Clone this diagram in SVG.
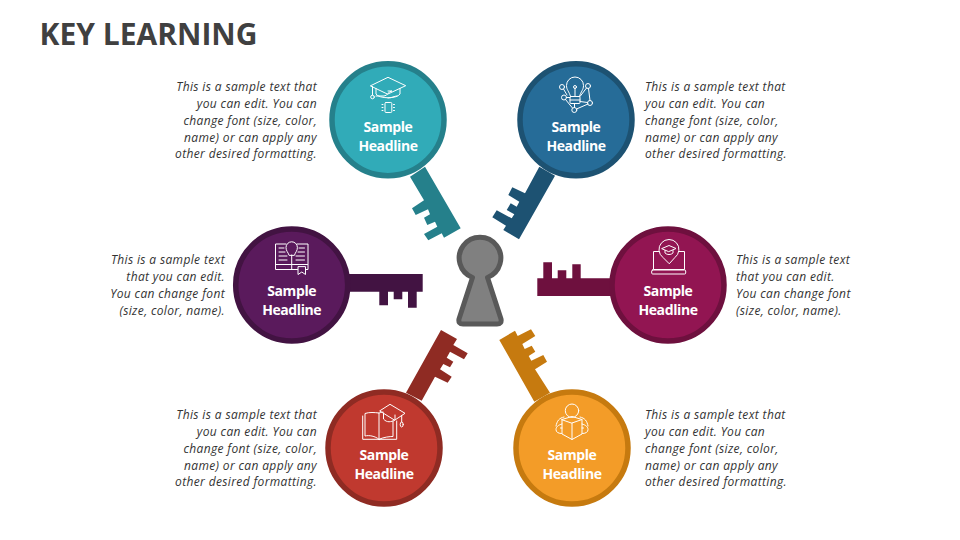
<svg xmlns="http://www.w3.org/2000/svg" width="960" height="540" viewBox="0 0 960 540">
<style>
text{font-family:"Open Sans","Noto Sans","Liberation Sans",sans-serif}
.t{font-size:30px;font-weight:700;fill:#404040}
.b{font-size:12px;font-style:italic;fill:#333;letter-spacing:.36px}
.r{text-anchor:end}
.h{font-size:14px;font-weight:700;fill:#fff;text-anchor:middle;letter-spacing:-.4px}
.c{stroke-width:5.5}
.i{fill:none;stroke:#fff;stroke-width:1;stroke-linejoin:round;stroke-linecap:round}
</style>
<rect width="960" height="540" fill="#fff"/>
<text class="t" x="39.500" y="45">KEY LEARNING</text>
<g id="connectors">
<polygon fill="#25808B" points="410,176.7 425,166.7 460.7,228.3 444,237.7 441.7,233.3 428.3,240.3 424,234 437.3,226.7 435,221.7 427.3,225 424,217.7 430,214.3 428,209.3 415.7,215 412,208.3 424,200.3"/>
<polygon fill="#1D5272" points="539.3,166.7 555,175.7 519,239.3 503.3,230 506,225.7 492.3,217.3 496.7,210.3 511.7,218.3 514.3,214.3 506.7,210 510.7,203.3 516.7,206.7 519.3,201.7 508.3,195 512.3,187.3 525,193.3"/>
<polygon fill="#421342" points="345,274 422.7,274 422.7,291.7 416.7,291.7 416.7,307.7 408,307.7 408,291.7 402.3,291.7 402.3,299.3 393.7,299.3 393.7,291.7 388,291.7 388,305.3 379.3,305.3 379.3,291.7 345,291.7"/>
<polygon fill="#6E103E" points="537.3,278.3 543.3,278.3 543.3,262.3 552,262.3 552,278.3 557.7,278.3 557.7,270.3 566.3,270.3 566.3,278.3 572.3,278.3 572.3,264.3 580.7,264.3 580.7,278.3 615,278.3 615,296 537.3,296"/>
<polygon fill="#8F2B23" points="406,392.7 441,330 457,339 453.3,345 467.7,353.3 464,359.3 450,351.7 446.7,357.7 453.3,361.7 450,367.3 443.3,364 440,369.3 451.7,376.7 447.7,382.7 435,376.7 421.7,400.7"/>
<polygon fill="#C67A0F" points="499.3,340 515,330.7 517.7,336 531,329.3 535.3,336 522.3,344 524.7,349 531.7,345.7 535.3,351.7 528.7,356 531.3,360.7 543.3,355 547,361.7 535,369.3 550,392.7 534.3,401.7"/>
</g>
<g id="keyhole">
<path d="M472.5,277.5A20.8,20.8 0 1 1 487.5,277.5L501,319Q502,324 497,324L463,324Q458,324 459,319Z" fill="#808080" stroke="#595959" stroke-width="5" stroke-linejoin="round"/>
</g>
<g id="node-teal">
<circle class="c" cx="388" cy="119.7" r="56" fill="#31ABB8" stroke="#25808B"/>
<g class="i">
<path d="M370.7,85.7L388,77.3 405.7,85.7 388,94Z"/>
<path d="M376,88.5V94C379,99 397,99 400,94V88.5"/>
<path d="M372.5,86.5V95"/><circle cx="372.5" cy="97" r="1.8"/>
<path d="M376,96H384C388,96 388,91 392,91H388M388,98C392,98 394,96 397,96"/>
<rect x="385" y="102.5" width="6.8" height="10" rx="1"/>
<path d="M382,104.5H383M382,107.5H383M382,110.5H383M393.500,104.500H394.500M393.500,107.500H394.500M393.500,110.500H394.500"/>
</g>
<text class="h" x="388" y="132">Sample</text>
<text class="h" x="388" y="151">Headline</text>
</g>
<g id="node-blue">
<circle class="c" cx="576" cy="119.7" r="56" fill="#266C98" stroke="#1D5272"/>
<g class="i">
<path d="M570.500,96.500C569,91 566.500,90 566.500,85.500A8.500,8.500 0 0 1 583.500,85.500C583.500,90 581,91 579.500,96.500"/>
<rect x="570" y="96.500" width="10" height="7" rx="1"/><path d="M570,100H580M575,96.500V88"/>
<circle cx="575" cy="87" r="1.500"/>
<circle cx="562" cy="87" r="2.500"/><circle cx="588" cy="86" r="2.500"/><circle cx="564" cy="97.500" r="2.500"/><circle cx="590" cy="103" r="2.500"/><circle cx="574.300" cy="110" r="2.500"/>
<path d="M563.500,89L567,95M566.500,97.500H570M565.500,99.500L572.500,108M576.500,109L588,104M588.500,88.500L590,100.500M586.500,88L580,96.500M574.500,107.500V103.500M580,101.500L587.500,102.500"/>
</g>
<text class="h" x="576" y="132">Sample</text>
<text class="h" x="576" y="151">Headline</text>
</g>
<g id="node-purple">
<circle class="c" cx="291.700" cy="285" r="56" fill="#5A1A5C" stroke="#421342"/>
<g class="i">
<path d="M286,244H275.500V269.500H297.500M306,269.500H308V244H297"/>
<path d="M276,264.500H291.700V269.500M291.700,264.500H307.500"/>
<path d="M289,255C288,252 286,251 286,247.500A5.700,5.700 0 0 1 297.400,247.500C297.400,251 295.500,252 294.500,255ZM291.700,255V264.500"/>
<path d="M279,248H284M279,252H285M279,256H287M279,260H287M299,248H304.500M298,252H304.500M296,256H304.500M296,260H304.500"/>
<path d="M298,267V274.500L301.800,272 305.500,274.500V267Z"/>
</g>
<text class="h" x="291.700" y="296">Sample</text>
<text class="h" x="291.700" y="315">Headline</text>
</g>
<g id="node-magenta">
<circle class="c" cx="668" cy="285" r="56" fill="#921552" stroke="#6E103E"/>
<g class="i">
<path d="M669,263.500L663,257.500A10,10 0 1 1 675,257.500Z"/>
<path d="M662,248.500L669,245.500 676,248.500 669,251.500Z"/><path d="M665,250.500V253C667,255 671,255 673,253V250.500"/>
<path d="M659,251.500H653.500V269.500H684.500V251.500H679"/>
<rect x="651.700" y="270" width="34" height="4" rx="1"/>
</g>
<text class="h" x="668" y="296">Sample</text>
<text class="h" x="668" y="315">Headline</text>
</g>
<g id="node-red">
<circle class="c" cx="384" cy="448" r="56" fill="#C0392F" stroke="#8F2B23"/>
<g class="i">
<path d="M379,439.300V413C375,412.500 369,412 365,413.500V436C369,435 375,436 379,439.300Z"/>
<path d="M379,413C381,412.500 382,412 383,412M379,439.300C384,437 390,436.500 393,436.500V421"/>
<path d="M362.700,416V439.300H396.700V421"/>
<path d="M380,410.700L390,404.300 405,413.300 395,420Z"/>
<path d="M383.500,413V419C387,423 391,422 395,420V415"/>
<path d="M401.700,415.500V422"/><ellipse cx="401.700" cy="424.500" rx="1.500" ry="2.500"/>
</g>
<text class="h" x="384" y="460">Sample</text>
<text class="h" x="384" y="479">Headline</text>
</g>
<g id="node-orange">
<circle class="c" cx="572" cy="448" r="56" fill="#F39C28" stroke="#C67A0F"/>
<g class="i">
<circle cx="572" cy="410.700" r="6.700"/>
<path d="M572,423L582,419.500 572,416.500 562,419.500ZM562,419.500V434L572,439.500 582,434V419.500M572,423V439.500"/>
<path d="M562,424C558,425 556,427 556,429.500C556,432 558,433.500 561.500,433.500M562,428H560.500M582,424C586,425 588,427 588,429.500C588,432 586,433.500 582.500,433.500M582,428H583.500"/>
<path d="M564,417C559,418 557,421 556,426M580,417C585,418 587,421 588,426"/>
</g>
<text class="h" x="572" y="460">Sample</text>
<text class="h" x="572" y="479">Headline</text>
</g>
<g id="text-left-top"><text class="b r" x="317" y="91">This is a sample text that</text><text class="b r" x="317" y="108">you can edit. You can</text><text class="b r" x="317" y="125">change font (size, color,</text><text class="b r" x="317" y="142">name) or can apply any</text><text class="b r" x="317" y="158">other desired formatting.</text></g>
<g id="text-right-top"><text class="b" x="645" y="91">This is a sample text that</text><text class="b" x="645" y="108">you can edit. You can</text><text class="b" x="645" y="125">change font (size, color,</text><text class="b" x="645" y="142">name) or can apply any</text><text class="b" x="645" y="158">other desired formatting.</text></g>
<g id="text-left-mid"><text class="b r" x="225" y="264">This is a sample text</text><text class="b r" x="225" y="281">that you can edit.</text><text class="b r" x="225" y="298">You can change font</text><text class="b r" x="225" y="315">(size, color, name).</text></g>
<g id="text-right-mid"><text class="b" x="736" y="264">This is a sample text</text><text class="b" x="736" y="281">that you can edit.</text><text class="b" x="736" y="298">You can change font</text><text class="b" x="736" y="315">(size, color, name).</text></g>
<g id="text-left-bot"><text class="b r" x="317" y="419">This is a sample text that</text><text class="b r" x="317" y="436">you can edit. You can</text><text class="b r" x="317" y="453">change font (size, color,</text><text class="b r" x="317" y="470">name) or can apply any</text><text class="b r" x="317" y="486">other desired formatting.</text></g>
<g id="text-right-bot"><text class="b" x="645" y="419">This is a sample text that</text><text class="b" x="645" y="436">you can edit. You can</text><text class="b" x="645" y="453">change font (size, color,</text><text class="b" x="645" y="470">name) or can apply any</text><text class="b" x="645" y="486">other desired formatting.</text></g>
</svg>
